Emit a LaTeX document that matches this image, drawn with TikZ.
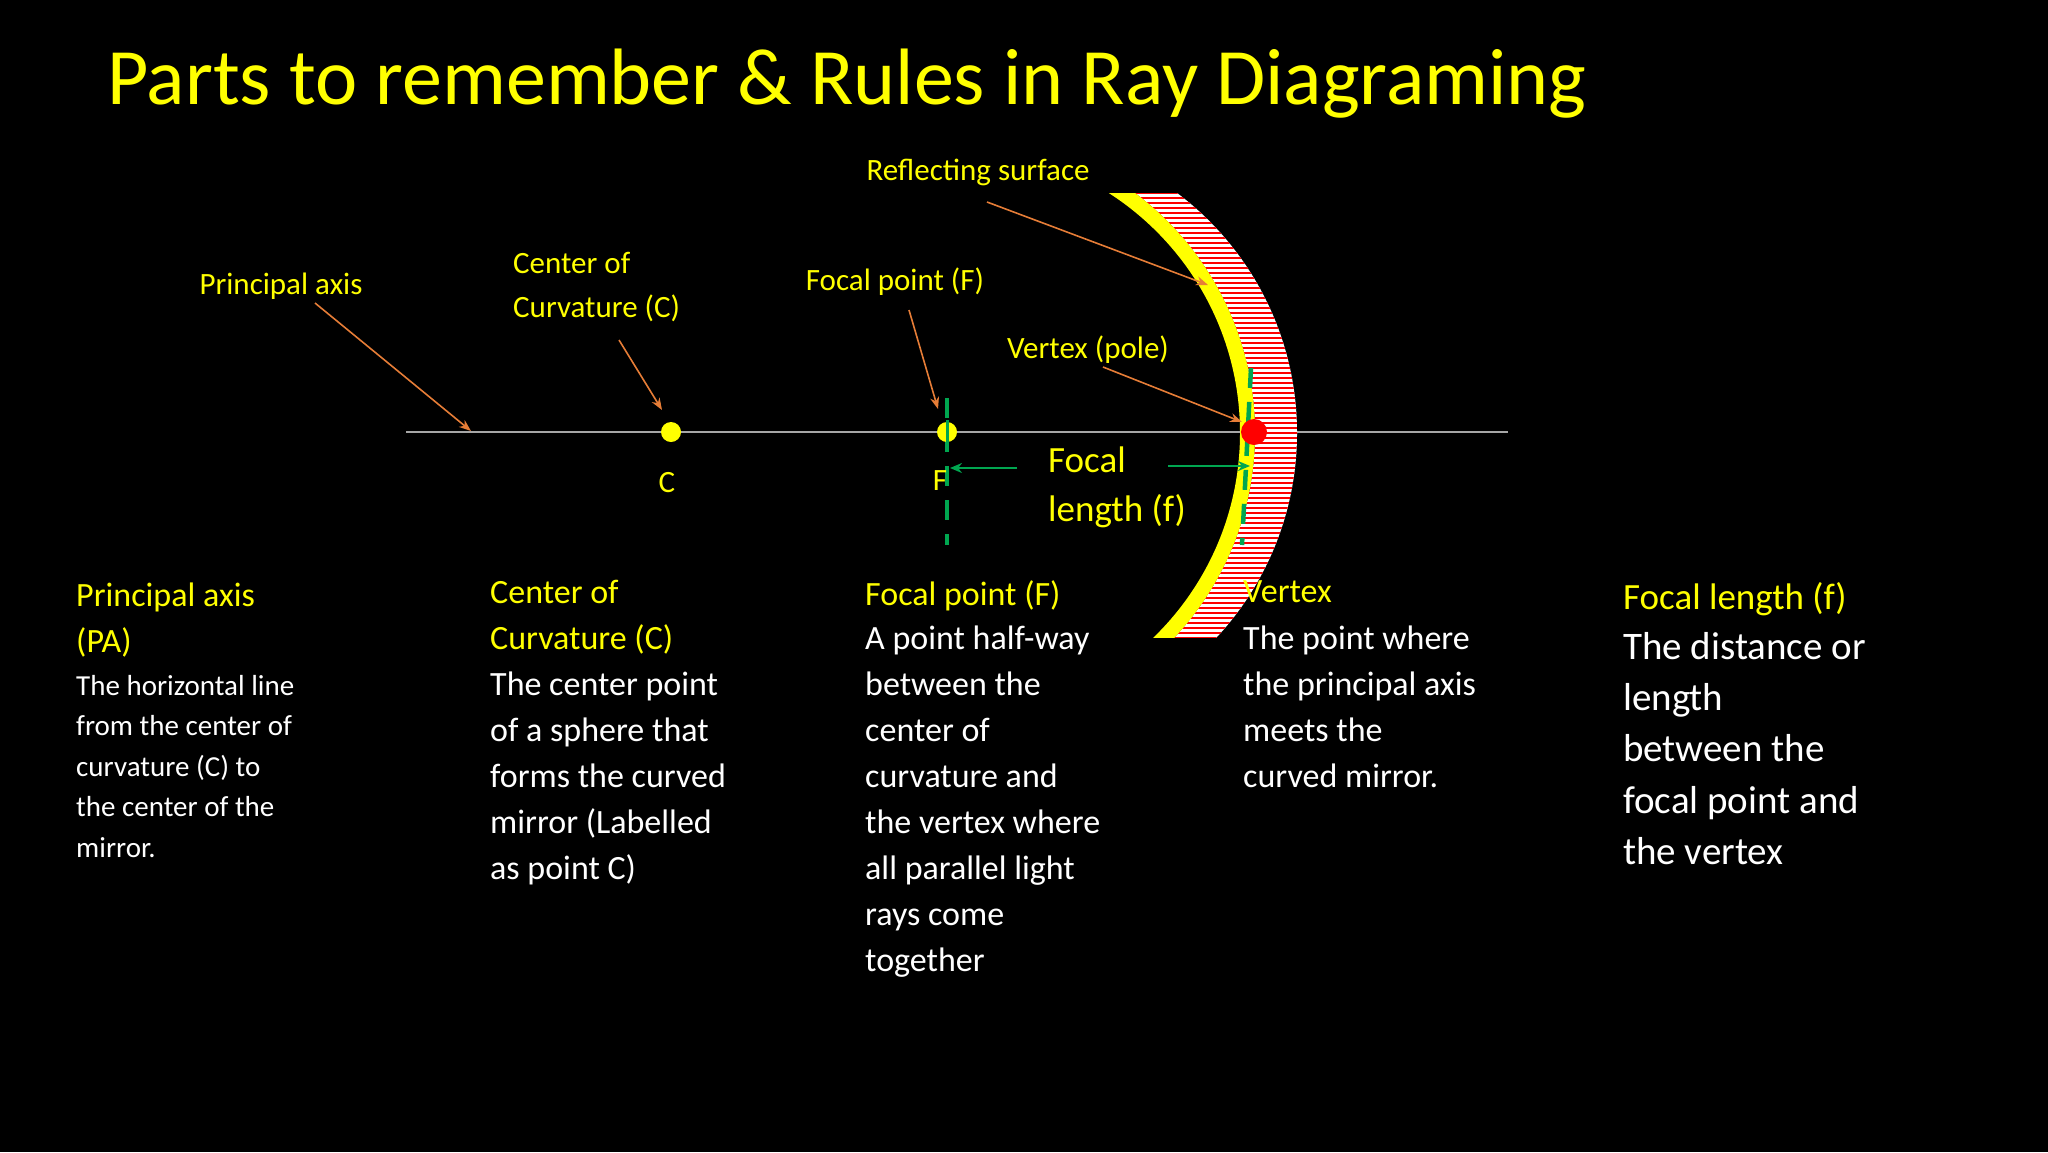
\documentclass[tikz,border=0pt]{standalone}
\usepackage{fontspec}
\setmainfont{Carlito}
\usetikzlibrary{arrows.meta}
\definecolor{ylw}{RGB}{255,255,0}
\definecolor{org}{RGB}{230,125,55}
\definecolor{grn}{RGB}{0,166,80}
\tikzset{
  ylab/.style={text=ylw,inner sep=0pt,font=\fontsize{31}{38}\selectfont},
  ptr/.style={draw=org,line width=1.6pt,-{Stealth[length=12pt,width=9pt]}},
  garr/.style={draw=grn,line width=2pt,-{Stealth[length=12pt,width=10pt]}},
  gdash/.style={draw=grn,line width=4.5pt,dash pattern=on 20pt off 14pt},
  yhead/.style={text=ylw,inner sep=0pt,anchor=north west,align=left},
  wbody/.style={text=white,inner sep=0pt,anchor=north west,align=left},
}
\begin{document}
\begin{tikzpicture}[x=1pt,y=-1pt]
\fill[black] (0,0) rectangle (2048,1152);
\useasboundingbox (0,0) rectangle (2048,1152);
% title
\node[text=ylw,inner sep=0pt,anchor=west,font=\fontsize{80}{90}\selectfont] (title) at (107,84) {Parts to remember \& Rules in Ray Diagraming};
% axis
\draw[gray!70,line width=1.5pt] (406,432) coordinate (ax1) -- (1508,432) coordinate (ax2);
% mirror
\begin{scope}
\clip (1000,193) rectangle (1400,637);
\begin{scope}[even odd rule]
\clip (997,433) circle (300) (955,433) circle (300);
\fill[white] (1000,150) rectangle (1400,680);
\foreach \yy in {193,198,...,640} \draw[red,line width=1.4pt] (1000,\yy) -- (1400,\yy);
\end{scope}
\fill[ylw,even odd rule] (955,433) circle (300) (955,433) circle (285);
\end{scope}
% dashed green
\draw[gdash] (947,398) -- (947,545);
\draw[gdash] (1251,368) -- (1242,545);
% points
\fill[ylw] (671,432) circle (10) coordinate (C);
\fill[ylw] (947,432) circle (10) coordinate (F);
\draw[grn,line width=3pt] (947,420) -- (947,445);
\fill[red] (1254,432) circle (13) coordinate (V);
\node[ylab] (Clab) at (667,483) {C};
\node[ylab] (Flab) at (940,481) {F};
% focal length
\node[ylab,font=\fontsize{37}{44}\selectfont,anchor=west] (fl1) at (1048,460) {Focal};
\node[ylab,font=\fontsize{37}{44}\selectfont,anchor=west] (fl2) at (1048,511) {length (f)};
\coordinate (g1s) at (1017,468); \coordinate (g1e) at (950,468);
\coordinate (g2s) at (1168,466); \coordinate (g2e) at (1250,466);
\draw[garr] (g1s) -- (g1e);
\draw[garr] (g2s) -- (g2e);
% labels with pointers
\node[ylab] (rs) at (978,172) {Reflecting surface};
\coordinate (rs0) at (987,202); \coordinate (rs1) at (1208,285);
\draw[ptr] (rs0) -- (rs1);
\node[ylab] (pa) at (281,286) {Principal axis};
\coordinate (pa0) at (315,303); \coordinate (pa1) at (471,431);
\draw[ptr] (pa0) -- (pa1);
\node[ylab,anchor=west] (cc1) at (513,263) {Center of};
\node[ylab,anchor=west] (cc2) at (513,308) {Curvature (C)};
\coordinate (cc0) at (619,340); \coordinate (cc3) at (662,410);
\draw[ptr] (cc0) -- (cc3);
\node[ylab] (fp) at (895,282) {Focal point (F)};
\coordinate (fp0) at (909,310); \coordinate (fp1) at (938,409);
\draw[ptr] (fp0) -- (fp1);
\node[ylab] (vp) at (1088,350) {Vertex (pole)};
\coordinate (vp0) at (1103,367); \coordinate (vp1) at (1242,422);
\draw[ptr] (vp0) -- (vp1);
% bottom columns
\node[yhead,font=\fontsize{34}{46}\selectfont] (h1) at (76,583) {Principal axis\\(PA)};
\node[wbody,font=\fontsize{29}{40.5}\selectfont] (b1) at (76,675) {The horizontal line\\from the center of\\curvature (C) to\\the center of the\\mirror.};
\node[yhead,font=\fontsize{34}{46}\selectfont] (h2) at (490,580) {Center of\\Curvature (C)};
\node[wbody,font=\fontsize{34}{46}\selectfont] (b2) at (490,672) {The center point\\of a sphere that\\forms the curved\\mirror (Labelled\\as point C)};
\node[yhead,font=\fontsize{34}{46}\selectfont] (h3) at (865,580) {Focal point (F)};
\node[wbody,font=\fontsize{34}{46}\selectfont] (b3) at (865,626) {A point half-way\\between the\\center of\\curvature and\\the vertex where\\all parallel light\\rays come\\together};
\node[yhead,font=\fontsize{34}{46}\selectfont] (h4) at (1243,580) {Vertex};
\node[wbody,font=\fontsize{34}{46}\selectfont] (b4) at (1243,626) {The point where\\the principal axis\\meets the\\curved mirror.};
\node[yhead,font=\fontsize{37}{46}\selectfont] (h5) at (1623,582) {Focal length (f)};
\node[wbody,font=\fontsize{39}{51.3}\selectfont] (b5) at (1623,632) {The distance or\\length\\between the\\focal point and\\the vertex};
\end{tikzpicture}
\end{document}
